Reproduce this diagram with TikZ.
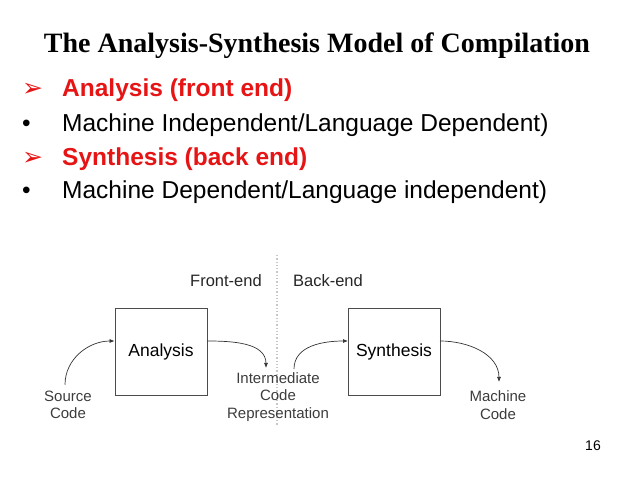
\documentclass[tikz,border=0pt]{standalone}
\usepackage{fontspec}
\setmainfont{Liberation Sans}
\newfontfamily\titlefont{Liberation Serif}
\newfontfamily\symfont{DejaVu Sans}
\usetikzlibrary{arrows.meta}
\definecolor{myred}{RGB}{230,20,20}
\definecolor{txtgray}{RGB}{60,60,60}
\begin{document}
\begin{tikzpicture}[x=1pt,y=-1pt,
  box/.style={draw=black!70,line width=0.8pt,minimum width=92pt,minimum height=87pt,inner sep=0pt,font=\fontsize{17.5}{20}\selectfont},
  lbl/.style={font=\fontsize{15}{17.5}\selectfont,text=txtgray,align=center,inner sep=0pt},
  bul/.style={anchor=west,inner sep=0pt,font=\fontsize{24.5}{28}\selectfont},
  arr/.style={-{Latex[length=5pt,width=4pt]},line width=0.7pt,black!80}]
\useasboundingbox (0,0) rectangle (638,478);
\node (title) at (317,46) {\titlefont\bfseries\fontsize{28}{32}\selectfont The Analysis-Synthesis Model of Compilation};
\node[bul,text=myred] (b1) at (22,90) {\makebox[40pt][l]{\symfont\fontsize{25}{28}\selectfont ➢}\bfseries Analysis (front end)};
\node[bul] (b2) at (22,125) {\makebox[40pt][l]{\textbullet}Machine Independent/Language Dependent)};
\node[bul,text=myred] (b3) at (22,159) {\makebox[40pt][l]{\symfont\fontsize{25}{28}\selectfont ➢}\bfseries Synthesis (back end)};
\node[bul] (b4) at (22,192) {\makebox[40pt][l]{\textbullet}Machine Dependent/Language independent)};
\coordinate (dtop) at (277,255);
\coordinate (dbot) at (277,425);
\draw[black!22,dotted,line width=1.3pt] (dtop) -- (dbot);
\node[lbl,text=black!85,font=\fontsize{16.5}{19}\selectfont] (fe) at (226,281) {Front-end};
\node[lbl,text=black!85,font=\fontsize{16.5}{19}\selectfont] (be) at (328,281) {Back-end};
\node[box] (an) at (161,351.5) {Analysis};
\node[box] (sy) at (394,351.5) {Synthesis};
\node[lbl] (src) at (68,405) {Source\\Code};
\node[lbl] (ir) at (278,397) {Intermediate\\Code\\Representation};
\node[lbl] (mc) at (498,405) {Machine\\Code};
\draw[arr] (src.north) ++(-3,-6) coordinate (s0) to[out=90,in=180] (an.west |- 0,341);
\coordinate (a1) at (207,341);
\coordinate (i0) at (266,368);
\draw[arr] (a1) to[out=0,in=90] (i0);
\coordinate (i1) at (294,369);
\coordinate (s1) at (348,341);
\draw[arr] (i1) to[out=90,in=180] (s1);
\coordinate (s2) at (440,341);
\coordinate (m0) at (499,382);
\draw[arr] (s2) to[out=0,in=90] (m0);
\node[font=\fontsize{14}{16}\selectfont] (pg) at (593,446) {16};
\end{tikzpicture}
\end{document}
